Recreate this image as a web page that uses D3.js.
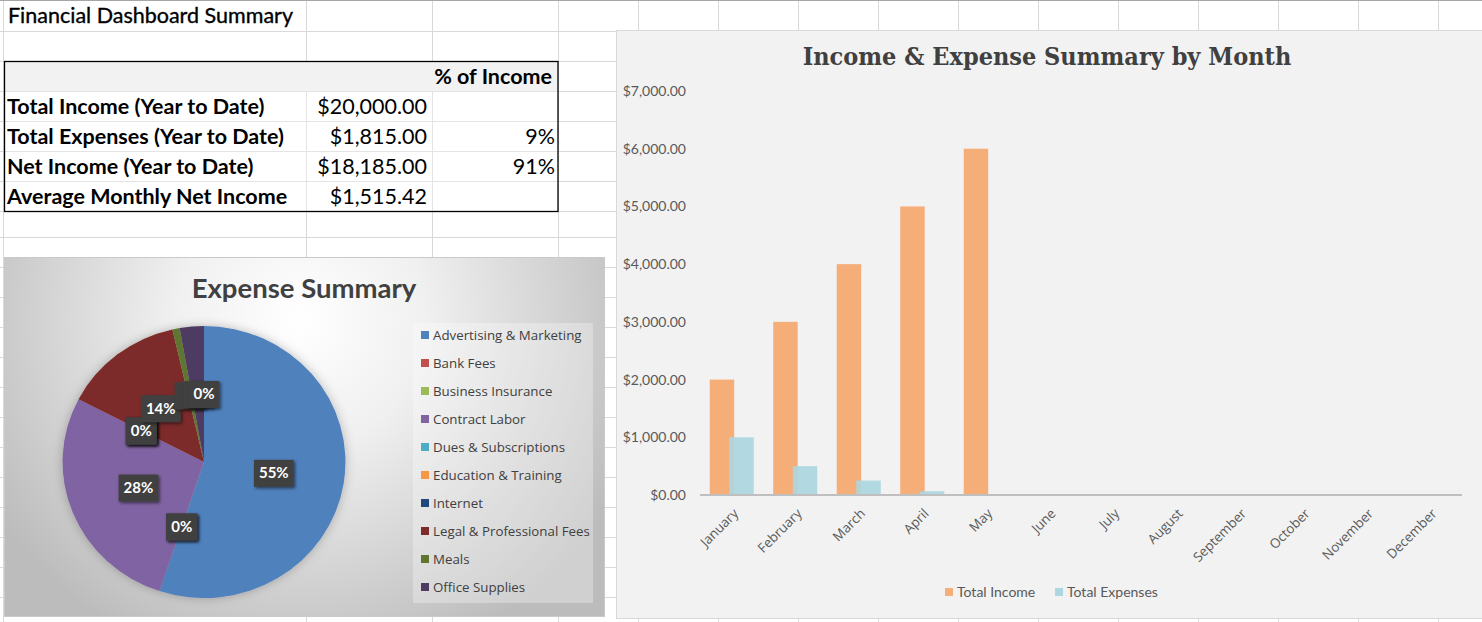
<!DOCTYPE html>
<html>
<head>
<meta charset="utf-8">
<script src="https://cdn.jsdelivr.net/npm/d3@7"></script>
<style>
  body { margin: 0; background: #fff; }
  svg { display: block; }
</style>
</head>
<body>
<svg id="sheet" width="1482" height="622"></svg>
<script>
// ---- data ----
var summaryLabels = ["Total Income (Year to Date)", "Total Expenses (Year to Date)",
                     "Net Income (Year to Date)", "Average Monthly Net Income"];
var summaryValues = [20000, 1815, 18185, 1515.42];
var summaryPct = [null, 0.09, 0.91, null];

var expenseCategories = ["Advertising & Marketing", "Bank Fees", "Business Insurance", "Contract Labor",
                         "Dues & Subscriptions", "Education & Training", "Internet",
                         "Legal & Professional Fees", "Meals", "Office Supplies", "Other"];
var expenseAmounts = [1000, 0, 0, 500, 0, 0, 0, 250, 15, 50, 0];

var months = ["January", "February", "March", "April", "May", "June", "July",
              "August", "September", "October", "November", "December"];
var totalIncome = [2000, 3000, 4000, 5000, 6000, 0, 0, 0, 0, 0, 0, 0];
var totalExpenses = [1000, 500, 250, 65, 0, 0, 0, 0, 0, 0, 0, 0];
var seriesNames = ["Total Income", "Total Expenses"];
var yTicks = [0, 1000, 2000, 3000, 4000, 5000, 6000, 7000];

// ---- styles ----
var pieColors = ["#4f81bd", "#c0504d", "#9bbb59", "#8064a2", "#4bacc6", "#f79646",
                 "#1f497d", "#7b2c2a", "#5f7530", "#4d3b62", "#2c4d75"];
var barColors = ["#f5ae78", "#acd6e0"];
var calibri = "Lato, 'Open Sans', sans-serif";

var svg = d3.select("#sheet");
var defs = svg.append("defs");

// ---- spreadsheet grid ----
var colLines = [3.5, 306.5, 432.5, 558.5].concat(d3.range(638.5, 1482, 80));
var rowLines = [31.5, 61.5, 91.5, 121.5, 151.5, 181.5, 211.5, 237.5].concat(d3.range(267.5, 622, 30));
var grid = svg.append("g").attr("stroke", "#d9d9d9").attr("stroke-width", 1);
grid.selectAll(".c").data(colLines).enter().append("line")
    .attr("x1", function(d) { return d; }).attr("x2", function(d) { return d; })
    .attr("y1", 0).attr("y2", 622);
grid.selectAll(".r").data(rowLines).enter().append("line")
    .attr("x1", 0).attr("x2", 1482)
    .attr("y1", function(d) { return d; }).attr("y2", function(d) { return d; });
svg.append("line").attr("x1", 0).attr("x2", 1482).attr("y1", 0.5).attr("y2", 0.5)
    .attr("stroke", "#a6a6a6");

// ---- summary table ----
var money = d3.format("$,.2f");
svg.append("text").attr("x", 8).attr("y", 23)
    .style("font", "21.5px " + calibri).attr("fill", "#000")
    .style("stroke", "#000").style("stroke-width", 0.35)
    .text("Financial Dashboard Summary");

svg.append("rect").attr("x", 4).attr("y", 61).attr("width", 554).attr("height", 30)
    .attr("fill", "#f2f2f2");
svg.append("text").attr("x", 552).attr("y", 84).attr("text-anchor", "end")
    .style("font", "bold 21.5px " + calibri).text("% of Income");

var rows = svg.selectAll(".row").data(summaryLabels).enter().append("g")
    .attr("transform", function(d, i) { return "translate(0," + (91 + i * 30) + ")"; });
rows.append("rect").attr("x", 4).attr("y", 0).attr("width", 554).attr("height", 30)
    .attr("fill", "#fff");
rows.append("line").attr("x1", 306.5).attr("x2", 306.5).attr("y1", 0).attr("y2", 30)
    .attr("stroke", "#e4e4e4");
rows.append("line").attr("x1", 432.5).attr("x2", 432.5).attr("y1", 0).attr("y2", 30)
    .attr("stroke", "#e4e4e4");
rows.append("line").attr("x1", 4).attr("x2", 558).attr("y1", 0.5).attr("y2", 0.5)
    .attr("stroke", "#e4e4e4");
rows.append("text").attr("x", 7).attr("y", 22.5)
    .style("font", "bold 21.5px " + calibri).text(function(d) { return d; });
rows.append("text").attr("x", 427).attr("y", 22.5).attr("text-anchor", "end")
    .style("font", "21.5px " + calibri)
    .text(function(d, i) { return money(summaryValues[i]); });
rows.append("text").attr("x", 555).attr("y", 22.5).attr("text-anchor", "end")
    .style("font", "21.5px " + calibri)
    .text(function(d, i) { return summaryPct[i] == null ? "" : d3.format(".0%")(summaryPct[i]); });
svg.append("rect").attr("x", 4.5).attr("y", 61.5).attr("width", 553.5).attr("height", 150)
    .attr("fill", "none").attr("stroke", "#000").attr("stroke-width", 1.3);

// ---- expense pie chart ----
var bg = defs.append("radialGradient").attr("id", "pieBg")
    .attr("gradientUnits", "userSpaceOnUse")
    .attr("cx", 300).attr("cy", 320).attr("r", 360);
bg.append("stop").attr("offset", "0").attr("stop-color", "#ffffff");
bg.append("stop").attr("offset", "0.35").attr("stop-color", "#f0f0f0");
bg.append("stop").attr("offset", "1").attr("stop-color", "#bcbcbc");

var shadow = defs.append("filter").attr("id", "lblShadow")
    .attr("x", "-30%").attr("y", "-30%").attr("width", "160%").attr("height", "160%");
shadow.append("feDropShadow").attr("dx", 1.5).attr("dy", 1.5).attr("stdDeviation", 1.8)
    .attr("flood-color", "#000").attr("flood-opacity", 0.55);
var pieShadow = defs.append("filter").attr("id", "pieShadow")
    .attr("x", "-20%").attr("y", "-20%").attr("width", "140%").attr("height", "140%");
pieShadow.append("feDropShadow").attr("dx", 0).attr("dy", 0).attr("stdDeviation", 5)
    .attr("flood-color", "#000").attr("flood-opacity", 0.25);

svg.append("rect").attr("x", 4.5).attr("y", 257.5).attr("width", 600).attr("height", 359)
    .attr("fill", "url(#pieBg)").attr("stroke", "#c9c9c9");
svg.append("text").attr("x", 304).attr("y", 298).attr("text-anchor", "middle")
    .style("font", "bold 27.5px " + calibri).attr("fill", "#404040").text("Expense Summary");

var pieData = expenseCategories.map(function(c, i) { return { name: c, amount: expenseAmounts[i] }; });
var expenseTotal = d3.sum(expenseAmounts);
var color = d3.scaleOrdinal().domain(expenseCategories).range(pieColors);
var pie = d3.pie().sort(null).value(function(d) { return d.amount; });
var radius = 136, cx = 204, cy = 462, sx = 1.04;
var arc = d3.arc().innerRadius(0).outerRadius(radius);
var arcs = pie(pieData);

svg.append("g")
    .attr("transform", "translate(" + cx + "," + cy + ") scale(" + sx + ",1)")
    .attr("filter", "url(#pieShadow)")
  .selectAll("path").data(arcs).enter().append("path")
    .attr("d", arc)
    .attr("fill", function(d) { return color(d.data.name); });

// data labels sit at the slice centroids; a label buried under a later one keeps only its box
var lbl = arcs.map(function(d) {
  var c = arc.centroid(d);
  return { arc: d, x: c[0] * sx, y: c[1], text: d3.format(".0%")(d.data.amount / expenseTotal) };
});
lbl.forEach(function(l, i) {
  l.hidden = lbl.slice(i + 1).some(function(o) {
    return Math.abs(o.x - l.x) < 20 && Math.abs(o.y - l.y) < 12;
  });
});
var labels = svg.append("g").attr("transform", "translate(" + cx + "," + cy + ")")
  .selectAll("g").data(lbl).enter().append("g")
    .attr("transform", function(d) { return "translate(" + d.x + "," + d.y + ")"; });
labels.append("text")
    .attr("text-anchor", "middle").attr("dy", "0.36em")
    .style("font", "bold 15px " + calibri).attr("fill", "#fff")
    .text(function(d) { return d.text; })
    .each(function(d) {
      var w = this.getComputedTextLength() + 10;
      d3.select(this.parentNode).insert("rect", "text")
        .attr("x", -w / 2).attr("y", -13).attr("width", w).attr("height", 27)
        .attr("fill", "#404040").attr("filter", "url(#lblShadow)");
      if (d.hidden) d3.select(this).remove();
    });

// legend shows the first ten categories
var legendItems = expenseCategories.slice(0, 10);
svg.append("rect").attr("x", 413).attr("y", 323).attr("width", 180).attr("height", 280)
    .attr("fill", "#ffffff").attr("fill-opacity", 0.3);
var leg = svg.append("g").selectAll("g").data(legendItems).enter().append("g")
    .attr("transform", function(d, i) { return "translate(421," + (335 + i * 28) + ")"; });
leg.append("rect").attr("x", 0).attr("y", -4).attr("width", 8).attr("height", 8)
    .attr("fill", function(d) { return color(d); });
leg.append("text").attr("x", 12).attr("y", 4.5)
    .style("font", "13.3px 'Open Sans', sans-serif").attr("fill", "#404040")
    .text(function(d) { return d; });

// ---- income & expense bar chart ----
svg.append("rect").attr("x", 616.5).attr("y", 30.5).attr("width", 866).attr("height", 588)
    .attr("fill", "#f2f2f2").attr("stroke", "#d9d9d9");
svg.append("text").attr("x", 1047).attr("y", 65).attr("text-anchor", "middle")
    .style("font", "bold 25px 'DejaVu Serif Condensed', serif").attr("fill", "#404040")
    .text("Income & Expense Summary by Month");

var x0 = d3.scaleBand().domain(months).range([700, 1462]).paddingInner(0.307).paddingOuter(0.1535);
var barW = x0.bandwidth() / 1.8;
var x1 = d3.scalePoint().domain(seriesNames).range([0, 0.8 * barW]);
var y = d3.scaleLinear().domain([0, 7000]).range([495, 91]);

var yAxis = svg.append("g").attr("transform", "translate(700,0)")
    .call(d3.axisLeft(y).tickValues(yTicks).tickSize(0).tickPadding(14).tickFormat(money));
yAxis.select(".domain").remove();
yAxis.selectAll("text").style("font", "14px " + calibri).attr("fill", "#595959");

var barData = months.map(function(m, i) {
  return { month: m, values: [totalIncome[i], totalExpenses[i]] };
});
var groups = svg.append("g").selectAll("g").data(barData).enter().append("g")
    .attr("transform", function(d) { return "translate(" + x0(d.month) + ",0)"; });
groups.selectAll("rect").data(function(d) {
    return seriesNames.map(function(s, j) { return { series: s, value: d.values[j], j: j }; });
  }).enter().append("rect")
    .attr("x", function(d) { return x1(d.series); })
    .attr("y", function(d) { return y(d.value); })
    .attr("width", barW)
    .attr("height", function(d) { return y(0) - y(d.value); })
    .attr("fill", function(d) { return barColors[d.j]; })
    .attr("fill-opacity", function(d) { return d.j === 1 ? 0.92 : 1; });

var xAxis = svg.append("g").attr("transform", "translate(0," + y(0) + ")")
    .call(d3.axisBottom(x0).tickSize(0).tickPadding(10));
xAxis.select(".domain").attr("stroke", "#bfbfbf").attr("stroke-width", 2)
    .attr("d", "M700,0H1462");
xAxis.selectAll("text")
    .style("font", "13.3px 'Open Sans', sans-serif").attr("fill", "#595959")
    .attr("text-anchor", "end")
    .attr("dy", "0.35em")
    .attr("transform", "translate(-3,9) rotate(-45)");

var bl = svg.append("g").selectAll("g").data(seriesNames).enter().append("g")
    .attr("transform", function(d, i) { return "translate(" + (945 + i * 110) + ",592)"; });
bl.append("rect").attr("x", 0).attr("y", -4).attr("width", 8).attr("height", 8)
    .attr("fill", function(d, i) { return barColors[i]; });
bl.append("text").attr("x", 12).attr("y", 4.5)
    .style("font", "14px " + calibri).attr("fill", "#595959")
    .text(function(d) { return d; });
</script>
</body>
</html>
